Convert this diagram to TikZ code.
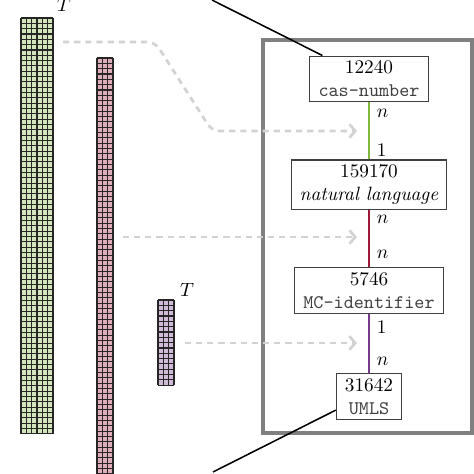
\documentclass[tikz,border=0pt]{standalone}
\usetikzlibrary{arrows.meta, positioning}
\definecolor{casgreen}{RGB}{128,184,62}
\definecolor{natred}{RGB}{158,24,56}
\definecolor{mcpurple}{RGB}{118,58,140}
\tikzset{
  entity/.style={draw=black!75, line width=0.6pt, fill=white, align=center, inner xsep=4.5pt, inner ysep=2.5pt},
  relation/.style={line width=1.4pt},
  feed/.style={gray!35, line width=1.4pt, dash pattern=on 3.2pt off 2.6pt, -{Straight Barb[length=3pt,width=7pt]}},
  zoomline/.style={black, line width=0.8pt},
}
% a column of cells: x, y, columns, rows, fill
\newcommand{\gridbar}[5]{%
  \begin{scope}[shift={(#1,#2)}]
    \fill[#5] (0,0) rectangle (#3*5.33,#4*5.33);
    \foreach \i in {0,...,#3}
      \draw[black!85, line width=0.55pt] (\i*5.33,0) -- (\i*5.33,#4*5.33);
    \foreach \j in {0,...,#4}
      \draw[black!85, line width=0.55pt] (0,\j*5.33) -- (#3*5.33,\j*5.33);
  \end{scope}}

\begin{document}
\begin{tikzpicture}[x=0.52pt, y=-0.52pt]
  \useasboundingbox (0,0) rectangle (474,474);
  % columns
  \gridbar{21}{18}{6}{78}{casgreen!35}
  \gridbar{97}{58}{3}{79}{natred!35}
  \gridbar{158}{300}{3}{16}{mcpurple!35}
  \node (tgreen) at (64,5) {$T$};
  \node (tpurple) at (187,290) {$T$};
  % frame
  \draw[gray, line width=1.6pt] (263,40) rectangle (472,433);
  \coordinate (ztop) at (212,0);
  \coordinate (zbot) at (213,472);
  % tables
  \node[entity] (cas) at (369,79) {12240\\\textcolor{black!75}{\texttt{cas-number}}};
  \node[entity, below=29.6pt of cas] (nat) {159170\\\textit{natural language}};
  \node[entity, below=29.6pt of nat] (mc) {5746\\\textcolor{black!75}{\texttt{MC-identifier}}};
  \node[entity, below=30.6pt of mc] (umls) {31642\\\textcolor{black!75}{\texttt{UMLS}}};
  \draw[zoomline] (ztop) -- ([xshift=6.8pt]cas.north west);
  \draw[zoomline] (zbot) -- ([yshift=5.2pt]umls.south west);
  \draw[relation, casgreen] (cas) -- (nat) node[pos=0.19, right, text=black]{$n$} node[pos=0.84, right, text=black]{1};
  \draw[relation, natred] (nat) -- (mc) node[pos=0.16, right, text=black]{$n$} node[pos=0.77, right, text=black]{$n$};
  \draw[relation, mcpurple] (mc) -- (umls) node[pos=0.22, right, text=black]{1} node[pos=0.8, right, text=black]{$n$};
  % feeds
  \coordinate (g0) at (63,42);
  \coordinate (g1) at (357,131);
  \coordinate (r0) at (123,237);
  \coordinate (r1) at (357,237);
  \coordinate (p0) at (185,343);
  \coordinate (p1) at (357,343);
  \draw[feed, rounded corners=4pt] (g0) -- (155,42) -- (212,131) -- (g1);
  \draw[feed] (r0) -- (r1);
  \draw[feed] (p0) -- (p1);
\end{tikzpicture}
\end{document}
